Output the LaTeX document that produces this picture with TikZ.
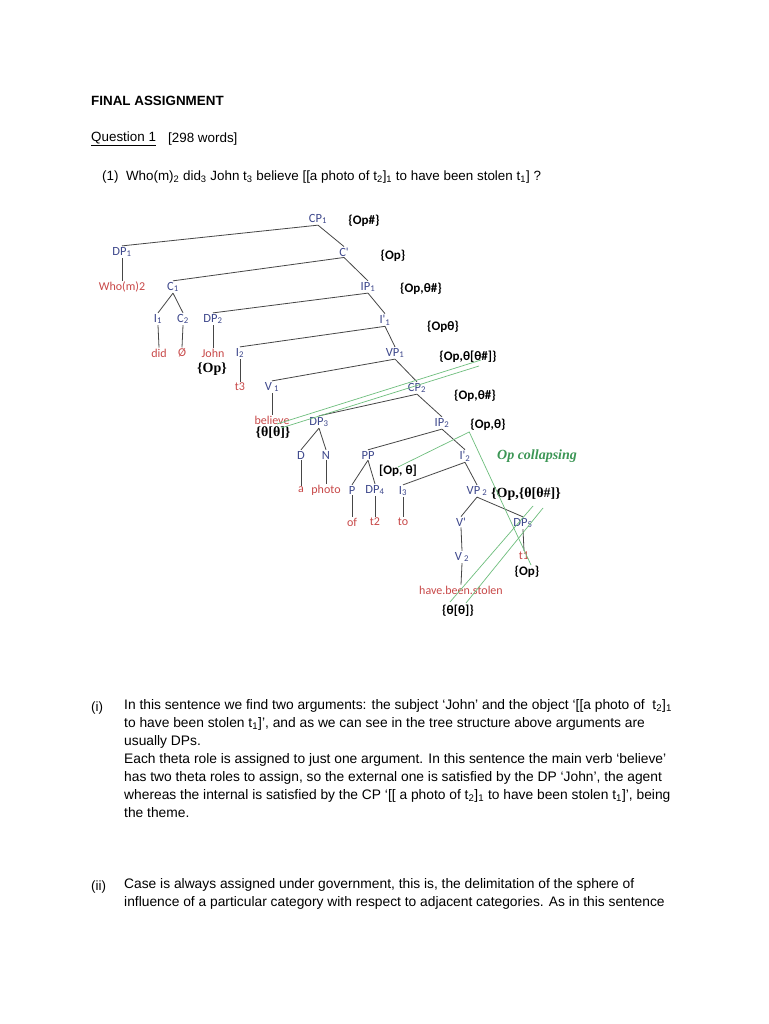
\documentclass[tikz,border=0pt]{standalone}
\usepackage{fontspec}
\setmainfont{Liberation Sans}
\newfontfamily\treefont{Carlito}
\newfontfamily\treeserif{Liberation Serif}
\usetikzlibrary{positioning}
\definecolor{synCat}{RGB}{62,72,140}
\definecolor{synWord}{RGB}{200,72,72}
\definecolor{synGreen}{RGB}{60,150,85}
\definecolor{synLink}{RGB}{110,190,125}
\definecolor{synEdge}{RGB}{70,70,70}
\newcommand{\tsub}[1]{\textsubscript{#1}}
\tikzset{
  syn/cat/.style={inner sep=1pt, text=synCat, font=\fontsize{12.5}{14}\treefont},
  syn/word/.style={inner sep=1pt, text=synWord, font=\fontsize{12}{14}\treefont},
  syn/feat/.style={inner sep=1pt, font=\fontsize{13}{15}\treefont\bfseries},
  syn/sfeat/.style={inner sep=1pt, font=\fontsize{14}{16}\treeserif\bfseries},
  syn/note/.style={inner sep=1pt, text=synGreen,
                   font=\fontsize{14}{16}\treeserif\bfseries\itshape},
  syn/edge/.style={draw=synEdge, line width=0.8pt},
  syn/link/.style={draw=synLink, line width=0.7pt},
  syn/txt/.style={inner sep=0pt, anchor=west, font=\fontsize{13.4}{19}\selectfont},
  syn/para/.style={syn/txt, anchor=north west, align=left,
                   font=\fontsize{13.8}{18}\selectfont},
}

\begin{document}
\begin{tikzpicture}[x=1pt, y=-1pt]
  \fill[white] (0,0) rectangle (768,1024);
  \useasboundingbox (0,0) rectangle (768,1024);

  % ---------------- heading ----------------
  \node[syn/txt, font=\fontsize{13.4}{19}\selectfont\bfseries] (title) at (91,101)
    {FINAL ASSIGNMENT};
  \node[syn/txt] (question) at (91,139) {\underline{Question 1}};
  \node[syn/txt] (count) at (168,139) {[298 words]};
  \node[syn/txt] (example) at (102,177)
    {(1)\ \ Who(m)\tsub{2} did\tsub{3} John t\tsub{3} believe [[a photo of
     t\tsub{2}]\tsub{1} to have been stolen t\tsub{1}] ?};

  % ---------------- tree: categories ----------------
  \node[syn/cat] (cp1)   at (318,219) {CP\tsub{1}};
  \node[syn/cat] (dp1)   at (122,252) {DP\tsub{1}};
  \node[syn/cat] (cbar)  at (344,252) {C'};
  \node[syn/cat] (c1)    at (173,287) {C\tsub{1}};
  \node[syn/cat] (ip1)   at (368,287) {IP\tsub{1}};
  \node[syn/cat] (i1)    at (158,319) {I\tsub{1}};
  \node[syn/cat] (c2)    at (183,319) {C\tsub{2}};
  \node[syn/cat] (dp2)   at (213,319) {DP\tsub{2}};
  \node[syn/cat] (ibar1) at (385,320) {I'\tsub{1}};
  \node[syn/cat] (i2)    at (240,353) {I\tsub{2}};
  \node[syn/cat] (vp1)   at (395,353) {VP\tsub{1}};
  \node[syn/cat] (v1)    at (272,387) {V\,\tsub{1}};
  \node[syn/cat] (cp2)   at (417,388) {CP\tsub{2}};
  \node[syn/cat] (dp3)   at (319,422) {DP\tsub{3}};
  \node[syn/cat] (ip2)   at (442,423) {IP\tsub{2}};
  \node[syn/cat] (d)     at (301,455) {D};
  \node[syn/cat] (n)     at (326,455) {N};
  \node[syn/cat] (pp)    at (368,455) {PP};
  \node[syn/cat] (ibar2) at (465,456) {I'\tsub{2}};
  \node[syn/cat] (p)     at (352,490) {P};
  \node[syn/cat] (dp4)   at (375,490) {DP\tsub{4}};
  \node[syn/cat] (i3)    at (403,491) {I\tsub{3}};
  \node[syn/cat] (vp2)   at (477,491) {VP\,\tsub{2}};
  \node[syn/cat] (vbar)  at (461,522) {V'};
  \node[syn/cat] (dp5)   at (523,523) {DP\tsub{5}};
  \node[syn/cat] (v2)    at (462,557) {V\,\tsub{2}};

  % ---------------- tree: words ----------------
  \node[syn/word] (who)     at (122,287) {Who(m)2};
  \node[syn/word] (did)     at (159,353) {did};
  \node[syn/word] (null)    at (182,353) {Ø};
  \node[syn/word] (john)    at (213,353) {John};
  \node[syn/word] (t3)      at (240,387) {t3};
  \node[syn/word] (believe) at (272,420) {believe};
  \node[syn/word] (a)       at (301,490) {a};
  \node[syn/word] (photo)   at (326,490) {photo};
  \node[syn/word] (of)      at (352,522) {of};
  \node[syn/word] (t2)      at (375,522) {t2};
  \node[syn/word] (to)      at (403,522) {to};
  \node[syn/word] (t1)      at (524,556) {t1};
  \node[syn/word] (stolen)  at (461,590) {have.been.stolen};

  % ---------------- tree: feature sets ----------------
  \node[syn/feat]  (fcp1)   at (364,221) {\{Op\#\}};
  \node[syn/feat]  (fcbar)  at (393,256) {\{Op\}};
  \node[syn/feat]  (fip1)   at (421,289) {\{Op,θ\#\}};
  \node[syn/feat]  (fibar1) at (443,327) {\{Opθ\}};
  \node[syn/feat]  (fvp1)   at (468,357) {\{Op,θ[θ\#]\}};
  \node[syn/feat]  (fcp2)   at (475,396) {\{Op,θ\#\}};
  \node[syn/feat]  (fip2)   at (488,425) {\{Op,θ\}};
  \node[syn/feat]  (fpp)    at (398,471) {[Op, θ]};
  \node[syn/feat]  (ft1)    at (527,572) {\{Op\}};
  \node[syn/feat]  (fstolen) at (458,611) {\{θ[θ]\}};
  \node[syn/sfeat] (fjohn)  at (212,369) {\{Op\}};
  \node[syn/sfeat] (fbel)   at (273,433) {\{θ[θ]\}};
  \node[syn/sfeat] (fvp2)   at (526,494) {\{Op,\{θ[θ\#]\}};
  \node[syn/note]  (collapse) at (537,456) {Op collapsing};

  % ---------------- tree: branches ----------------
  \draw[syn/edge] (cp1.south) -- (dp1.north)  (cp1.south) -- (cbar.north);
  \draw[syn/edge] (cbar.south) -- (c1.north)  (cbar.south) -- (ip1.north);
  \draw[syn/edge] (ip1.south) -- (dp2.north)  (ip1.south) -- (ibar1.north);
  \draw[syn/edge] (c1.south) -- (i1.north)    (c1.south) -- (c2.north);
  \draw[syn/edge] (ibar1.south) -- (i2.north) (ibar1.south) -- (vp1.north);
  \draw[syn/edge] (vp1.south) -- (v1.north)   (vp1.south) -- (cp2.north);
  \draw[syn/edge] (cp2.south) -- (dp3.north)  (cp2.south) -- (ip2.north);
  \draw[syn/edge] (dp3.south) -- (d.north)    (dp3.south) -- (n.north);
  \draw[syn/edge] (ip2.south) -- (pp.north)   (ip2.south) -- (ibar2.north);
  \draw[syn/edge] (pp.south) -- (p.north)     (pp.south) -- (dp4.north);
  \draw[syn/edge] (ibar2.south) -- (i3.north) (ibar2.south) -- (vp2.north);
  \draw[syn/edge] (vp2.south) -- (vbar.north) (vp2.south) -- (dp5.north);

  % unary branches down to the words
  \draw[syn/edge] (dp1.south) -- (who.north);
  \draw[syn/edge] (i1.south) -- (did.north);
  \draw[syn/edge] (c2.south) -- (null.north);
  \draw[syn/edge] (dp2.south) -- (john.north);
  \draw[syn/edge] (i2.south) -- (t3.north);
  \draw[syn/edge] (v1.south) -- (believe.north);
  \draw[syn/edge] (d.south) -- (a.north);
  \draw[syn/edge] (n.south) -- (photo.north);
  \draw[syn/edge] (p.south) -- (of.north);
  \draw[syn/edge] (dp4.south) -- (t2.north);
  \draw[syn/edge] (i3.south) -- (to.north);
  \draw[syn/edge] (vbar.south) -- (v2.north);
  \draw[syn/edge] (v2.south) -- (stolen.north);
  \draw[syn/edge] (dp5.south) -- (t1.north);

  % ---------------- green links ----------------
  \draw[syn/link] ([xshift=5pt, yshift=-4pt]believe.center)
    -- ([xshift=13pt, yshift=-3pt]fvp1.center);
  \draw[syn/link] ([xshift=9pt, yshift=-8pt]believe.center)
    -- ([xshift=11pt, yshift=-9pt]fvp1.center);
  \draw[syn/link] ([yshift=4pt]fpp.center) -- (fip2.south west)
    -- ([xshift=4pt]ft1.north);
  \draw[syn/link] ([xshift=-8pt, yshift=9pt]fstolen.center)
    -- ([xshift=7pt, yshift=-12pt]fvp2.center);
  \draw[syn/link] ([xshift=8pt, yshift=8pt]fstolen.center)
    -- ([xshift=17pt, yshift=-14pt]fvp2.center);

  % ---------------- answer text ----------------
  \node[syn/txt] (numi) at (91,708) {(i)};
  \node[syn/para] (parai) at (124,699)
    {In this sentence we find two arguments: the subject `John' and the object `[[a photo of\ \ t\tsub{2}]\tsub{1}\\
     to have been stolen t\tsub{1}]', and as we can see in the tree structure above arguments are\\
     usually DPs.\\
     Each theta role is assigned to just one argument. In this sentence the main verb `believe'\\
     has two theta roles to assign, so the external one is satisfied by the DP `John', the agent\\
     whereas the internal is satisfied by the CP `[[ a photo of t\tsub{2}]\tsub{1} to have been stolen t\tsub{1}]', being\\
     the theme.};
  \node[syn/txt] (numii) at (91,887) {(ii)};
  \node[syn/para] (paraii) at (124,878)
    {Case is always assigned under government, this is, the delimitation of the sphere of\\
     influence of a particular category with respect to adjacent categories. As in this sentence};

\end{tikzpicture}
\end{document}
